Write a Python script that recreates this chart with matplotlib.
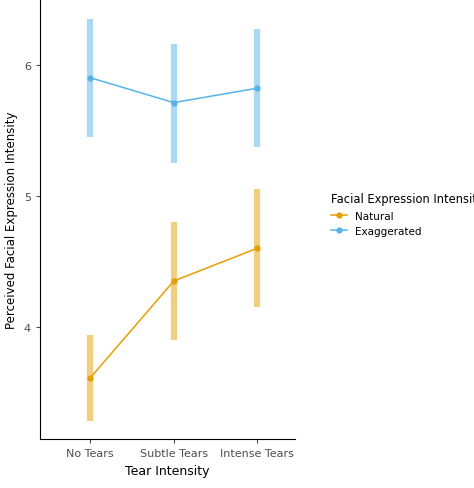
import matplotlib
matplotlib.use("Agg")
import matplotlib.pyplot as plt
from matplotlib.lines import Line2D

categories = ["No Tears", "Subtle Tears", "Intense Tears"]
natural_mean = [3.61, 4.35, 4.60]
natural_lo = [3.28, 3.90, 4.15]
natural_hi = [3.94, 4.80, 5.05]
exag_mean = [5.90, 5.71, 5.82]
exag_lo = [5.45, 5.25, 5.37]
exag_hi = [6.35, 6.16, 6.27]

fig = plt.figure(figsize=(4.74, 4.89), dpi=100)
ax = fig.add_axes([40 / 474, 49 / 489, 255 / 474, 440 / 489])
x = [1, 2, 3]

series = [("Natural", natural_mean, natural_lo, natural_hi, "#E69F00"),
          ("Exaggerated", exag_mean, exag_lo, exag_hi, "#56B4E9")]
for name, m, lo, hi, col in series:
    ax.vlines(x, lo, hi, color=col, lw=4.5, alpha=0.5)
    ax.plot(x, m, color=col, lw=1.1, marker="o", ms=3.5)

ax.set_xlim(0.4, 3.45)
ax.set_ylim(3.145, 6.5)
ax.set_xticks(x)
ax.set_xticklabels(categories)
ax.set_yticks([4, 5, 6])
ax.tick_params(labelsize=8, colors="#4d4d4d", length=3)
for s in ["top", "right"]:
    ax.spines[s].set_visible(False)
ax.set_xlabel("Tear Intensity", fontsize=9)
ax.set_ylabel("Perceived Facial Expression Intensity", fontsize=8.5)

leg_handles = [Line2D([0], [0], color=col, lw=1.1, marker="o", ms=3.5)
               for _, _, _, _, col in series]
leg = fig.legend(leg_handles, [s[0] for s in series], loc="upper left",
                 bbox_to_anchor=(322 / 474, 1 - 184 / 489), frameon=False,
                 title="Facial Expression Intensity", fontsize=7.5,
                 title_fontsize=8.3, handlelength=1.5)
leg._legend_box.align = "left"

fig.savefig("out.png")
